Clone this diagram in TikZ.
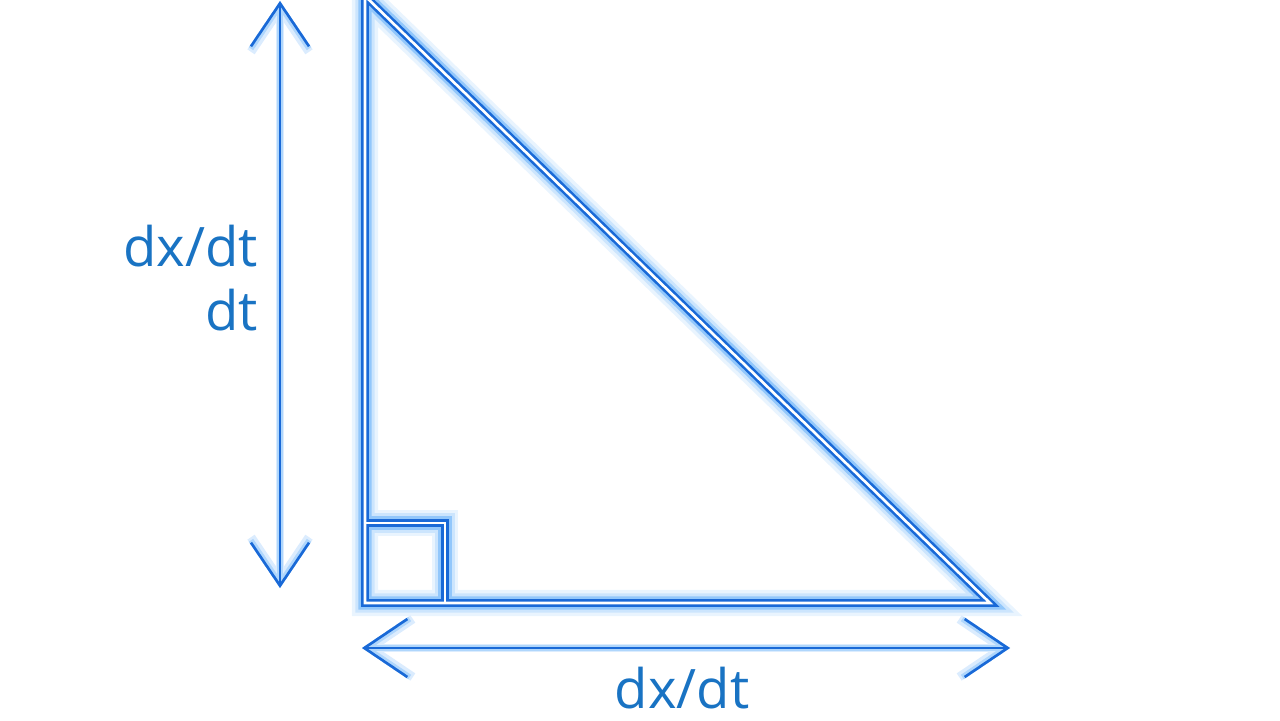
\documentclass[tikz,border=0pt]{standalone}
\usepackage{fontspec}
\setsansfont{Open Sans}
\usetikzlibrary{arrows.meta}
\definecolor{lineblue}{RGB}{25,105,215}
\definecolor{haloblue}{RGB}{110,180,250}
\definecolor{textblue}{RGB}{25,115,195}
\tikzset{
  halo/.style={haloblue!15, line width=15pt, line join=miter},
  halo1/.style={haloblue!35, line width=11pt, line join=miter},
  halo2/.style={haloblue!75, line width=7.5pt, line join=miter},
  edge/.style={lineblue, line width=4.4pt, line join=miter},
  core/.style={white, line width=1.5pt, line join=miter},
  dimhalo/.style={haloblue!25, line width=5pt},
  dimhalo1/.style={haloblue!55, line width=3pt},
  dim/.style={lineblue, line width=1.5pt},
  barb/.tip={Straight Barb[length=0.86cm, width=1.16cm]},
  label/.style={textblue, font=\sffamily\fontsize{31}{36}\selectfont}
}
\begin{document}
\begin{tikzpicture}[x=0.02cm,y=-0.02cm]
\useasboundingbox (0,0) rectangle (1280,720);

% Triangle corners
\coordinate (apex) at (365,-4);
\coordinate (corner) at (365,603);
\coordinate (tip) at (990,603);
\coordinate (sqtop) at (365,523);
\coordinate (sqmid) at (445,523);
\coordinate (sqbot) at (445,603);

% Glowing triangle and right angle mark
\foreach \s in {halo,halo1,halo2,edge,core}{
  \draw[\s] (apex) -- (corner) -- (tip) -- cycle;
  \draw[\s] (sqtop) -- (sqmid) -- (sqbot);
}

% Dimension arrows
\coordinate (vtop) at (280,1);
\coordinate (vbot) at (280,588);
\coordinate (hleft) at (362,648);
\coordinate (hright) at (1010,648);
\foreach \s in {dimhalo,dimhalo1,dim}{
  \draw[\s, barb-barb] (vtop) -- (vbot);
  \draw[\s, barb-barb] (hleft) -- (hright);
}

% Labels
\node[label, anchor=east, align=right] (side) at (264,278) {dx/dt\\dt};
\node[label, anchor=base] (base) at (682,708) {dx/dt};
\end{tikzpicture}
\end{document}
